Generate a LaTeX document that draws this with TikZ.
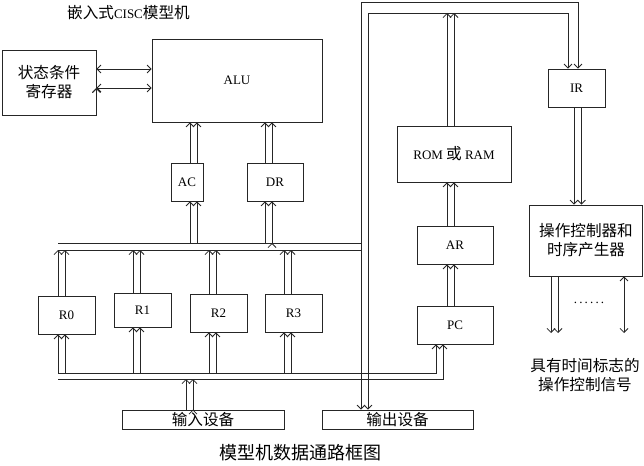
\documentclass[tikz,border=0pt]{standalone}
\usepackage{fontspec}
\setmainfont{Liberation Serif}
\newfontfamily\cjk[Scale=1.2]{Noto Sans CJK SC}
\usetikzlibrary{arrows.meta}

\tikzset{
  unit/.style={draw, color=black!85, text=black, line width=0.8pt, inner sep=0pt,
    align=center, font=\fontsize{13}{19}\selectfont},
  wire/.style={draw, color=black!85, line width=0.8pt},
  tip/.style={wire, -{Straight Barb[length=4pt,width=8pt]}},
  twotip/.style={wire, {Straight Barb[length=4pt,width=8pt]}-{Straight Barb[length=4pt,width=8pt]}},
  label/.style={font=\fontsize{13}{19}\selectfont, align=center, inner sep=0pt}
}

\begin{document}
\begin{tikzpicture}[x=1pt, y=-1pt]
  \useasboundingbox[fill=white] (0,0) rectangle (644,465);

  \node[unit, minimum width=94pt,  minimum height=65pt] (stat) at (49,82.5)    {{\cjk 状态条件}\\{\cjk 寄存器}};
  \node[unit, minimum width=170pt, minimum height=83pt] (ALU)  at (237,80.5)   {ALU};
  \node[unit, minimum width=32pt,  minimum height=38pt] (AC)   at (187,182)    {AC};
  \node[unit, minimum width=56pt,  minimum height=38pt] (DR)   at (275,182)    {DR};
  \node[unit, minimum width=57pt,  minimum height=38pt] (R0)   at (66.5,315)   {R0};
  \node[unit, minimum width=57pt,  minimum height=34pt] (R1)   at (142.5,310)  {R1};
  \node[unit, minimum width=57pt,  minimum height=38pt] (R2)   at (218.5,313)  {R2};
  \node[unit, minimum width=57pt,  minimum height=38pt] (R3)   at (293.5,313)  {R3};
  \node[unit, minimum width=162pt, minimum height=19pt] (in)   at (203,419.5)  {{\cjk 输入设备}};
  \node[unit, minimum width=151pt, minimum height=19pt] (out)  at (397.5,419.5) {{\cjk 输出设备}};
  \node[unit, minimum width=114pt, minimum height=56pt] (mem)  at (454,154)    {ROM {\cjk 或} RAM};
  \node[unit, minimum width=76pt,  minimum height=38pt] (AR)   at (455,245)    {AR};
  \node[unit, minimum width=76pt,  minimum height=38pt] (PC)   at (455,325)    {PC};
  \node[unit, minimum width=57pt,  minimum height=38pt] (IR)   at (576.5,88)   {IR};
  \node[unit, minimum width=113pt, minimum height=71pt] (ctrl) at (586,240.5)  {{\cjk 操作控制器和}\\{\cjk 时序产生器}};

  \node[label, anchor=west] (title)   at (67,13)    {{\cjk 嵌入式}CISC{\cjk 模型机}};
  \node[label]              (signals) at (585,375)  {{\cjk 具有时间标志的}\\{\cjk 操作控制信号}};
  \node[label]              (dots)    at (589,303)  {.\,.\,.\,.\,.\,.};
  \node[label, font=\fontsize{15}{19}\selectfont] (caption) at (300,453) {{\cjk 模型机数据通路框图}};

  \coordinate (ubA) at (58,243);
  \coordinate (ubB) at (58,250);
  \coordinate (lbA) at (58,373);
  \coordinate (lbB) at (58,379);
  \coordinate (lbAend) at (436,373);
  \coordinate (lbBend) at (443,379);
  \coordinate (outerL) at (361,2);
  \coordinate (outerR) at (578,2);
  \coordinate (innerL) at (368,13);
  \coordinate (innerR) at (568,13);
  \coordinate (sig) at (586,333);

  \draw[wire] (ubA) -- (ubA -| outerL);
  \draw[wire] (ubB) -- (ubB -| outerL);
  \draw[tip] (lbA) -- (lbAend) -- (lbAend |- PC.south);
  \draw[tip] (lbB) -- (lbBend) -- (lbBend |- PC.south);
  \draw[twotip] (out.north -| outerL) -- (outerL) -- (outerR) -- (outerR |- IR.north);
  \draw[twotip] (out.north -| innerL) -- (innerL) -- (innerR) -- (innerR |- IR.north);

  \path[twotip]
    ([yshift=13.5pt]stat.east) edge ([yshift=13.5pt]stat.east -| ALU.west)
    ([yshift=-5.5pt]stat.east) edge ([yshift=-5.5pt]stat.east -| ALU.west);

  \path[tip]
    ([xshift=3pt]AC.north)  edge ([xshift=3pt]AC.north |- ALU.south)
    ([xshift=10pt]AC.north) edge ([xshift=10pt]AC.north |- ALU.south)
    ([xshift=3pt]AC.south |- ubA)  edge ([xshift=3pt]AC.south)
    ([xshift=10pt]AC.south |- ubA) edge ([xshift=10pt]AC.south)

    ([xshift=-10pt]DR.north) edge ([xshift=-10pt]DR.north |- ALU.south)
    ([xshift=-3pt]DR.north)  edge ([xshift=-3pt]DR.north |- ALU.south)
    ([xshift=-10pt]DR.south |- ubA) edge ([xshift=-10pt]DR.south)
    ([xshift=-3pt]DR.south |- ubA)  edge ([xshift=-3pt]DR.south);

  \path[tip]
    ([xshift=-8.5pt]R0.north) edge ([xshift=-8.5pt]R0.north |- ubB)
    ([xshift=-1.5pt]R0.north) edge ([xshift=-1.5pt]R0.north |- ubB)
    ([xshift=-8.5pt]R0.south |- lbA) edge ([xshift=-8.5pt]R0.south)
    ([xshift=-1.5pt]R0.south |- lbA) edge ([xshift=-1.5pt]R0.south)

    ([xshift=-9.5pt]R1.north) edge ([xshift=-9.5pt]R1.north |- ubB)
    ([xshift=-2.5pt]R1.north) edge ([xshift=-2.5pt]R1.north |- ubB)
    ([xshift=-9.5pt]R1.south |- lbA) edge ([xshift=-9.5pt]R1.south)
    ([xshift=-2.5pt]R1.south |- lbA) edge ([xshift=-2.5pt]R1.south)

    ([xshift=-9.5pt]R2.north) edge ([xshift=-9.5pt]R2.north |- ubB)
    ([xshift=-2.5pt]R2.north) edge ([xshift=-2.5pt]R2.north |- ubB)
    ([xshift=-9.5pt]R2.south |- lbA) edge ([xshift=-9.5pt]R2.south)
    ([xshift=-2.5pt]R2.south |- lbA) edge ([xshift=-2.5pt]R2.south)

    ([xshift=-9.5pt]R3.north) edge ([xshift=-9.5pt]R3.north |- ubB)
    ([xshift=-2.5pt]R3.north) edge ([xshift=-2.5pt]R3.north |- ubB)
    ([xshift=-9.5pt]R3.south |- lbA) edge ([xshift=-9.5pt]R3.south)
    ([xshift=-2.5pt]R3.south |- lbA) edge ([xshift=-2.5pt]R3.south)

    ([xshift=-17pt]in.north) edge ([xshift=-17pt]in.north |- lbB)
    ([xshift=-10pt]in.north) edge ([xshift=-10pt]in.north |- lbB);

  \path[tip]
    ([xshift=-7pt]mem.north) edge ([xshift=-7pt]mem.north |- innerL)
    (mem.north)              edge (mem.north |- innerL)
    ([xshift=-8pt]AR.north)  edge ([xshift=-8pt]AR.north |- mem.south)
    ([xshift=-1pt]AR.north)  edge ([xshift=-1pt]AR.north |- mem.south)
    ([xshift=-8pt]PC.north)  edge ([xshift=-8pt]PC.north |- AR.south)
    ([xshift=-1pt]PC.north)  edge ([xshift=-1pt]PC.north |- AR.south)

    ([xshift=-2.5pt]IR.south) edge ([xshift=-2.5pt]IR.south |- ctrl.north)
    ([xshift=5pt]IR.south)    edge ([xshift=5pt]IR.south |- ctrl.north)

    ([xshift=-35pt]ctrl.south) edge ([xshift=-35pt]ctrl.south |- sig)
    ([xshift=-28pt]ctrl.south) edge ([xshift=-28pt]ctrl.south |- sig)
    ([xshift=38pt]ctrl.south)  edge ([xshift=38pt]ctrl.south |- sig);
\end{tikzpicture}
\end{document}
